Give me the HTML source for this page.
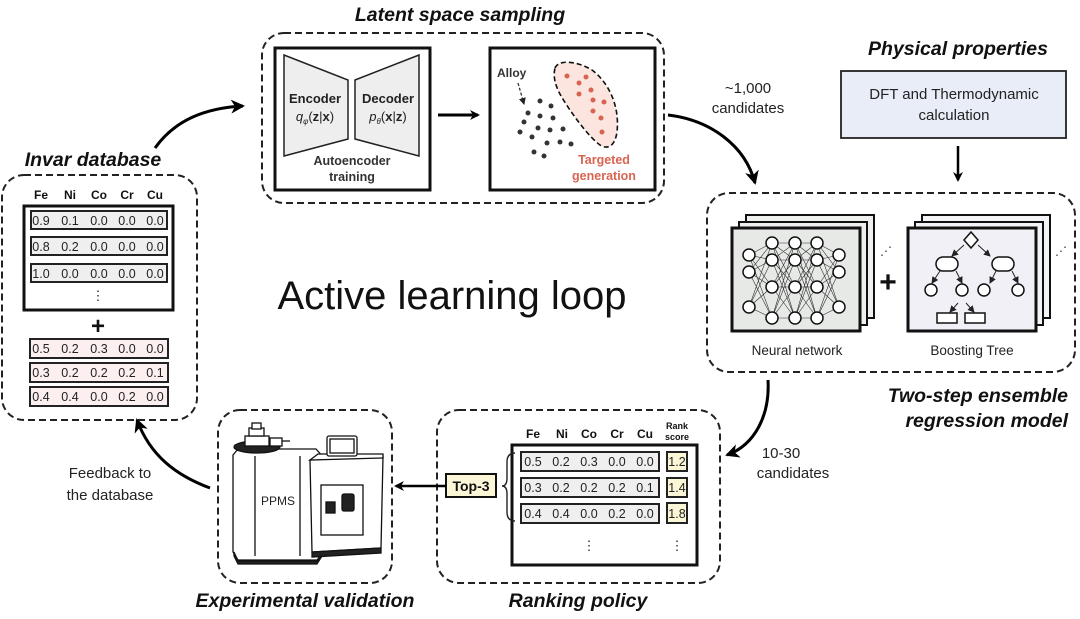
<!DOCTYPE html>
<html><head><meta charset="utf-8"><style>
html,body{margin:0;padding:0;background:#fff;}
svg{display:block;font-family:"Liberation Sans",Arial,sans-serif;}
.t{font-weight:bold;font-style:italic;font-size:19.5px;fill:#111;}
.n{font-size:12.5px;fill:#222;}
.h{font-size:12px;font-weight:bold;fill:#111;}
</style></head><body>
<svg width="1080" height="619" viewBox="0 0 1080 619" xmlns="http://www.w3.org/2000/svg">
<defs>
<marker id="ah" markerWidth="10" markerHeight="10" refX="8" refY="5" orient="auto" markerUnits="userSpaceOnUse"><path d="M0,0 L10,5 L0,10 L3,5 z" fill="#000"/></marker>
<marker id="ah2" markerWidth="14" markerHeight="14" refX="12" refY="7" orient="auto" markerUnits="userSpaceOnUse"><path d="M0,0 L14,7 L0,14 L4,7 z" fill="#000"/></marker>
<marker id="as" markerWidth="7" markerHeight="7" refX="6" refY="3.5" orient="auto" markerUnits="userSpaceOnUse"><path d="M0,0 L7,3.5 L0,7 z" fill="#222"/></marker>
</defs>

<text class="t" x="460" y="21" text-anchor="middle">Latent space sampling</text>
<text class="t" x="93" y="166" text-anchor="middle">Invar database</text>
<text class="t" x="958" y="55" text-anchor="middle">Physical properties</text>
<text class="t" x="1068" y="402" text-anchor="end">Two-step ensemble</text>
<text class="t" x="1068" y="427" text-anchor="end">regression model</text>
<text class="t" x="305" y="607" text-anchor="middle">Experimental validation</text>
<text class="t" x="578" y="607" text-anchor="middle">Ranking policy</text>
<text x="452" y="309" text-anchor="middle" font-size="40" fill="#111">Active learning loop</text>

<g fill="none" stroke="#222" stroke-width="2" stroke-dasharray="7,4">
<rect x="262" y="33" width="402" height="170" rx="22"/>
<rect x="2" y="175" width="195" height="245" rx="22"/>
<rect x="707" y="193" width="368" height="179" rx="22"/>
<rect x="437" y="410" width="283" height="173" rx="22"/>
<rect x="218" y="410" width="174" height="173" rx="22"/>
</g>

<rect x="275" y="48" width="155" height="142" fill="#fff" stroke="#111" stroke-width="3"/>
<path d="M284,55 L348,80 L348,139 L284,156 Z" fill="#eee" stroke="#222" stroke-width="1.5"/>
<path d="M355,80 L419,55 L419,156 L355,139 Z" fill="#eee" stroke="#222" stroke-width="1.5"/>
<text x="315" y="103" text-anchor="middle" font-size="13" font-weight="bold" fill="#222">Encoder</text>
<text x="315" y="121" text-anchor="middle" font-size="13" fill="#222"><tspan font-style="italic">q</tspan><tspan font-size="8" dy="3" font-style="italic">φ</tspan><tspan dy="-3">(</tspan><tspan font-weight="bold">z</tspan>|<tspan font-weight="bold">x</tspan>)</text>
<text x="388" y="103" text-anchor="middle" font-size="13" font-weight="bold" fill="#222">Decoder</text>
<text x="388" y="121" text-anchor="middle" font-size="13" fill="#222"><tspan font-style="italic">p</tspan><tspan font-size="8" dy="3" font-style="italic">θ</tspan><tspan dy="-3">(</tspan><tspan font-weight="bold">x</tspan>|<tspan font-weight="bold">z</tspan>)</text>
<text x="352" y="165" text-anchor="middle" font-size="12.5" font-weight="bold" fill="#333">Autoencoder</text>
<text x="352" y="181" text-anchor="middle" font-size="12.5" font-weight="bold" fill="#333">training</text>
<line x1="438" y1="115" x2="478" y2="115" stroke="#000" stroke-width="3" marker-end="url(#ah)"/>

<rect x="490" y="48" width="165" height="142" fill="#fff" stroke="#111" stroke-width="3"/>
<path d="M555,68 C558,60 575,60 592,70 C608,82 620,105 617,132 C615,146 608,150 600,145 C590,138 575,118 566,104 C558,92 552,80 555,68 Z" fill="#fbe5de" stroke="#111" stroke-width="1.6" stroke-dasharray="5,3"/>
<text x="497" y="77" font-size="12" font-weight="bold" fill="#333">Alloy</text>
<path d="M518,83 L524,104" stroke="#333" stroke-width="1.3" stroke-dasharray="3,2" fill="none" marker-end="url(#as)"/>
<g fill="#333">
<circle cx="540" cy="101" r="2.5"/><circle cx="551" cy="106" r="2.5"/><circle cx="528" cy="113" r="2.5"/><circle cx="540" cy="116" r="2.5"/><circle cx="553" cy="118" r="2.5"/><circle cx="524" cy="122" r="2.5"/><circle cx="538" cy="128" r="2.5"/><circle cx="550" cy="130" r="2.5"/><circle cx="563" cy="129" r="2.5"/><circle cx="520" cy="132" r="2.5"/><circle cx="532" cy="137" r="2.5"/><circle cx="547" cy="143" r="2.5"/><circle cx="560" cy="142" r="2.5"/><circle cx="571" cy="144" r="2.5"/><circle cx="534" cy="152" r="2.5"/><circle cx="544" cy="156" r="2.5"/>
</g>
<g fill="#d96350">
<circle cx="567" cy="76" r="2.5"/><circle cx="579" cy="83" r="2.5"/><circle cx="586" cy="77" r="2.5"/><circle cx="579" cy="94" r="2.5"/><circle cx="591" cy="90" r="2.5"/><circle cx="593" cy="100" r="2.5"/><circle cx="604" cy="102" r="2.5"/><circle cx="593" cy="111" r="2.5"/><circle cx="601" cy="118" r="2.5"/><circle cx="602" cy="132" r="2.5"/>
</g>
<text x="604" y="164" text-anchor="middle" font-size="12.5" font-weight="bold" fill="#d96350">Targeted</text>
<text x="604" y="180" text-anchor="middle" font-size="12.5" font-weight="bold" fill="#d96350">generation</text>

<g class="h" text-anchor="middle">
<text x="41" y="199">Fe</text><text x="70" y="199">Ni</text><text x="99" y="199">Co</text><text x="127" y="199">Cr</text><text x="155" y="199">Cu</text>
</g>
<rect x="24" y="206" width="149" height="104" fill="#fff" stroke="#111" stroke-width="3"/>
<g stroke="#222" stroke-width="2" fill="#efefef">
<rect x="31" y="211" width="136" height="18"/><rect x="31" y="237" width="136" height="18"/><rect x="31" y="264" width="136" height="18"/>
</g>
<g class="n" text-anchor="middle">
<text x="41" y="225">0.9</text><text x="70" y="225">0.1</text><text x="99" y="225">0.0</text><text x="127" y="225">0.0</text><text x="155" y="225">0.0</text>
<text x="41" y="251">0.8</text><text x="70" y="251">0.2</text><text x="99" y="251">0.0</text><text x="127" y="251">0.0</text><text x="155" y="251">0.0</text>
<text x="41" y="278">1.0</text><text x="70" y="278">0.0</text><text x="99" y="278">0.0</text><text x="127" y="278">0.0</text><text x="155" y="278">0.0</text>
</g>
<text x="98" y="300" text-anchor="middle" font-size="13" fill="#222">⋮</text>
<text x="98" y="334" text-anchor="middle" font-size="24" font-weight="bold" fill="#111">+</text>
<g stroke="#222" stroke-width="2" fill="#fbeff0">
<rect x="30" y="339" width="138" height="19"/><rect x="30" y="363" width="138" height="19"/><rect x="30" y="387" width="138" height="19"/>
</g>
<g class="n" text-anchor="middle">
<text x="41" y="353">0.5</text><text x="70" y="353">0.2</text><text x="99" y="353">0.3</text><text x="127" y="353">0.0</text><text x="155" y="353">0.0</text>
<text x="41" y="377">0.3</text><text x="70" y="377">0.2</text><text x="99" y="377">0.2</text><text x="127" y="377">0.2</text><text x="155" y="377">0.1</text>
<text x="41" y="401">0.4</text><text x="70" y="401">0.4</text><text x="99" y="401">0.0</text><text x="127" y="401">0.2</text><text x="155" y="401">0.0</text>
</g>

<rect x="841" y="71" width="225" height="67" fill="#e8edf8" stroke="#222" stroke-width="1.8"/>
<text x="954" y="99" text-anchor="middle" font-size="15" fill="#222">DFT and Thermodynamic</text>
<text x="954" y="120" text-anchor="middle" font-size="15" fill="#222">calculation</text>
<line x1="958" y1="146" x2="958" y2="180" stroke="#000" stroke-width="2.5" marker-end="url(#ah)"/>

<g stroke="#111" stroke-width="2">
<rect x="746" y="215" width="128" height="103" fill="#eef0ee"/>
<rect x="739" y="222" width="128" height="103" fill="#eef0ee"/>
<rect x="732" y="228" width="128" height="103" fill="#e6e9e6" stroke-width="3"/>
<rect x="922" y="215" width="128" height="103" fill="#f4f3f8"/>
<rect x="915" y="222" width="128" height="103" fill="#f4f3f8"/>
<rect x="908" y="228" width="128" height="103" fill="#f1f0f6" stroke-width="3"/>
</g>
<g stroke="#333" stroke-width="0.6">
<path d="M749,255 L772,243 M749,255 L772,260 M749,255 L772,287 M749,255 L772,318 M749,272 L772,243 M749,272 L772,260 M749,272 L772,287 M749,272 L772,318 M749,307 L772,243 M749,307 L772,260 M749,307 L772,287 M749,307 L772,318"/>
<path d="M772,243 L795,243 M772,243 L795,260 M772,243 L795,287 M772,243 L795,318 M772,260 L795,243 M772,260 L795,260 M772,260 L795,287 M772,260 L795,318 M772,287 L795,243 M772,287 L795,260 M772,287 L795,287 M772,287 L795,318 M772,318 L795,243 M772,318 L795,260 M772,318 L795,287 M772,318 L795,318"/>
<path d="M795,243 L817,243 M795,243 L817,260 M795,243 L817,287 M795,243 L817,318 M795,260 L817,243 M795,260 L817,260 M795,260 L817,287 M795,260 L817,318 M795,287 L817,243 M795,287 L817,260 M795,287 L817,287 M795,287 L817,318 M795,318 L817,243 M795,318 L817,260 M795,318 L817,287 M795,318 L817,318"/>
<path d="M817,243 L839,255 M817,243 L839,272 M817,243 L839,307 M817,260 L839,255 M817,260 L839,272 M817,260 L839,307 M817,287 L839,255 M817,287 L839,272 M817,287 L839,307 M817,318 L839,255 M817,318 L839,272 M817,318 L839,307"/>
</g>
<g fill="#fff" stroke="#111" stroke-width="1.5">
<circle cx="749" cy="255" r="6"/><circle cx="749" cy="272" r="6"/><circle cx="749" cy="307" r="6"/>
<circle cx="772" cy="243" r="6"/><circle cx="772" cy="260" r="6"/><circle cx="772" cy="287" r="6"/><circle cx="772" cy="318" r="6"/>
<circle cx="795" cy="243" r="6"/><circle cx="795" cy="260" r="6"/><circle cx="795" cy="287" r="6"/><circle cx="795" cy="318" r="6"/>
<circle cx="817" cy="243" r="6"/><circle cx="817" cy="260" r="6"/><circle cx="817" cy="287" r="6"/><circle cx="817" cy="318" r="6"/>
<circle cx="839" cy="255" r="6"/><circle cx="839" cy="272" r="6"/><circle cx="839" cy="307" r="6"/>
</g>
<text x="880" y="255" font-size="12" fill="#333">⋰</text>
<text x="1055" y="255" font-size="12" fill="#333">⋰</text>
<text x="888" y="292" text-anchor="middle" font-size="30" font-weight="bold" fill="#111">+</text>
<g stroke="#222" stroke-width="1" fill="none" marker-end="url(#as)">
<path d="M964,245 L952,256"/><path d="M978,245 L990,256"/>
<path d="M940,271 L932,283"/><path d="M956,271 L962,283"/>
<path d="M996,271 L990,283"/><path d="M1012,271 L1018,283"/>
<path d="M958,303 L950,312"/><path d="M966,303 L974,312"/>
</g>
<g fill="#fff" stroke="#111" stroke-width="1.5">
<path d="M971,232 L978,240 L971,248 L964,240 Z"/>
<rect x="936" y="257" width="22" height="14" rx="7"/>
<rect x="992" y="257" width="22" height="14" rx="7"/>
<circle cx="931" cy="290" r="6"/><circle cx="962" cy="290" r="6"/><circle cx="984" cy="290" r="6"/><circle cx="1018" cy="290" r="6"/>
<rect x="937" y="313" width="20" height="10"/><rect x="965" y="313" width="20" height="10"/>
</g>
<text x="797" y="355" text-anchor="middle" font-size="13.5" fill="#222">Neural network</text>
<text x="972" y="355" text-anchor="middle" font-size="13.5" fill="#222">Boosting Tree</text>

<g class="h" text-anchor="middle" font-size="12">
<text x="533" y="438">Fe</text><text x="562" y="438">Ni</text><text x="589" y="438">Co</text><text x="617" y="438">Cr</text><text x="645" y="438">Cu</text>
</g>
<text x="677" y="429" text-anchor="middle" font-size="9" font-weight="bold" fill="#111">Rank</text>
<text x="677" y="440" text-anchor="middle" font-size="9" font-weight="bold" fill="#111">score</text>
<rect x="512" y="445" width="185" height="120" fill="#fff" stroke="#111" stroke-width="3"/>
<g stroke="#222" stroke-width="2" fill="#efefef">
<rect x="521" y="452" width="138" height="19"/><rect x="521" y="478" width="138" height="19"/><rect x="521" y="504" width="138" height="19"/>
</g>
<g stroke="#222" stroke-width="2" fill="#fbf6d6">
<rect x="667" y="452" width="20" height="19"/><rect x="667" y="478" width="20" height="19"/><rect x="667" y="503" width="20" height="20"/>
</g>
<g class="n" text-anchor="middle">
<text x="533" y="466">0.5</text><text x="561" y="466">0.2</text><text x="589" y="466">0.3</text><text x="617" y="466">0.0</text><text x="645" y="466">0.0</text>
<text x="533" y="492">0.3</text><text x="561" y="492">0.2</text><text x="589" y="492">0.2</text><text x="617" y="492">0.2</text><text x="645" y="492">0.1</text>
<text x="533" y="518">0.4</text><text x="561" y="518">0.4</text><text x="589" y="518">0.0</text><text x="617" y="518">0.2</text><text x="645" y="518">0.0</text>
<text x="677" y="466">1.2</text><text x="677" y="492">1.4</text><text x="677" y="518">1.8</text>
</g>
<text x="589" y="550" text-anchor="middle" font-size="13" fill="#222">⋮</text>
<text x="677" y="550" text-anchor="middle" font-size="13" fill="#222">⋮</text>
<path d="M515,453 Q507,453 507,462 L507,478 Q507,486 502,486 Q507,486 507,494 L507,512 Q507,521 515,521" fill="none" stroke="#222" stroke-width="1.4"/>
<rect x="446" y="474" width="50" height="23" fill="#fbf6d6" stroke="#111" stroke-width="2"/>
<text x="471" y="491" text-anchor="middle" font-size="14" font-weight="bold" fill="#111">Top-3</text>
<line x1="446" y1="486" x2="396" y2="486" stroke="#000" stroke-width="2.5" marker-end="url(#ah)"/>

<g stroke="#111" stroke-width="1.3" fill="#fff">
<path d="M233,455 L238,449 L316,449 L324,458 L324,552 L317,560 L238,560 L233,552 Z"/>
<path d="M234,552 L238,561 L317,561 L322,552 L322,556 L317,564 L238,564 L234,556 Z" fill="#222"/>
<line x1="255" y1="456" x2="255" y2="556"/><line x1="300" y1="456" x2="300" y2="556"/>
<ellipse cx="257" cy="447" rx="23" ry="6" fill="#222"/>
<rect x="245" y="436" width="24" height="10" fill="#fff"/>
<rect x="249" y="428" width="15" height="8" fill="#fff"/>
<rect x="252" y="423" width="9" height="6" fill="#fff"/>
<rect x="270" y="438" width="12" height="8" fill="#fff"/>
<line x1="282" y1="441" x2="290" y2="441"/>
<path d="M310,460 L383,456 L381,548 L312,552 Z"/>
<path d="M310,460 L318,454 L383,454 L383,458 Z"/>
<rect x="327" y="436" width="30" height="20" rx="2"/>
<rect x="330" y="439" width="24" height="14" fill="#fff"/>
<rect x="321" y="485" width="42" height="50" fill="#fff"/>
<rect x="342" y="494" width="12" height="17" rx="2" fill="#222"/>
<rect x="326" y="502" width="9" height="11" fill="#222"/>
<path d="M312,552 L381,548 L381,553 L312,557 Z" fill="#222"/>
</g>
<text x="278" y="505" text-anchor="middle" font-size="12" fill="#222">PPMS</text>

<path d="M155,148 C175,120 205,108 243,106" fill="none" stroke="#000" stroke-width="3" marker-end="url(#ah2)"/>
<path d="M668,115 C710,120 745,145 755,183" fill="none" stroke="#000" stroke-width="3" marker-end="url(#ah2)"/>
<path d="M768,380 C770,415 755,445 727,455" fill="none" stroke="#000" stroke-width="3" marker-end="url(#ah2)"/>
<path d="M210,488 C175,475 150,455 137,420" fill="none" stroke="#000" stroke-width="3" marker-end="url(#ah2)"/>

<text x="748" y="93" text-anchor="middle" font-size="15" fill="#222">~1,000</text>
<text x="748" y="113" text-anchor="middle" font-size="15" fill="#222">candidates</text>
<text x="781" y="458" text-anchor="middle" font-size="15" fill="#222">10-30</text>
<text x="793" y="478" text-anchor="middle" font-size="15" fill="#222">candidates</text>
<text x="110" y="478" text-anchor="middle" font-size="15" fill="#222">Feedback to</text>
<text x="110" y="500" text-anchor="middle" font-size="15" fill="#222">the database</text>
</svg>
</body></html>
